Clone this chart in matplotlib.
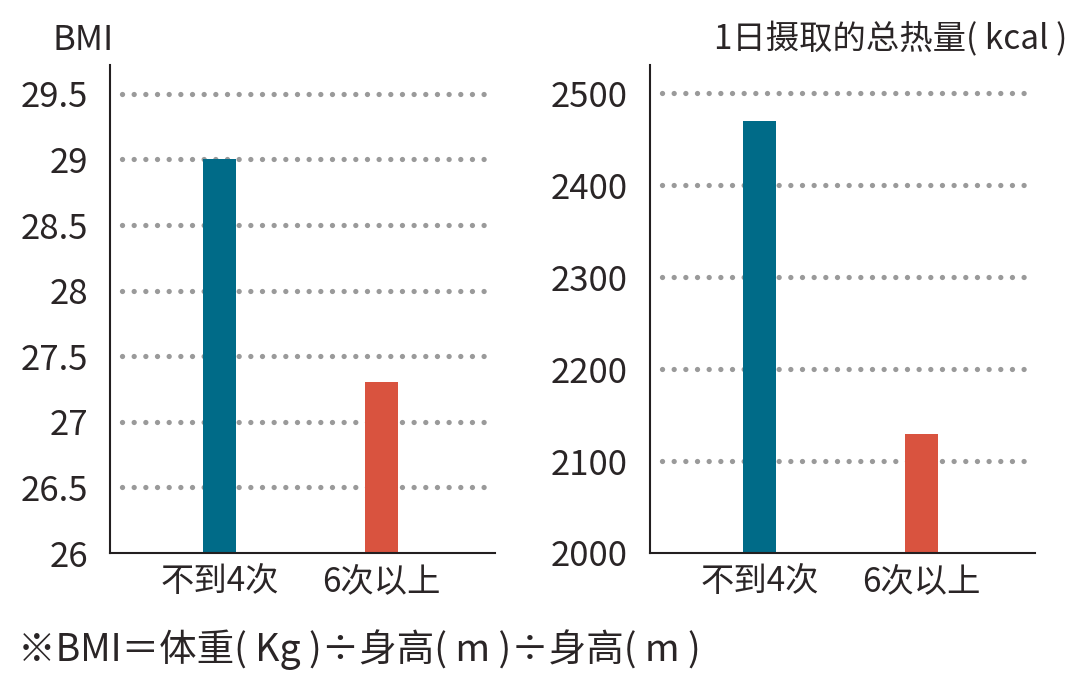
import matplotlib
matplotlib.use("Agg")
import matplotlib.pyplot as plt

plt.rcParams['font.family'] = ['Noto Sans CJK SC', 'DejaVu Sans']

# data
categories = ["不到4次", "6次以上"]
bmi_values = [29.0, 27.3]
kcal_values = [2470, 2130]
bar_colors = ["#006b88", "#d9533f"]

bmi_ticks = [26, 26.5, 27, 27.5, 28, 28.5, 29, 29.5]
bmi_ticklabels = ["26", "26.5", "27", "27.5", "28", "28.5", "29", "29.5"]
kcal_ticks = [2000, 2100, 2200, 2300, 2400, 2500]
kcal_ticklabels = ["2000", "2100", "2200", "2300", "2400", "2500"]

text_color = "#2a2526"

fig = plt.figure(figsize=(10.8, 6.87), dpi=100)
ax1 = fig.add_axes([110 / 1080, 1 - 553 / 687, 385 / 1080, 488 / 687])
ax2 = fig.add_axes([650 / 1080, 1 - 553 / 687, 385 / 1080, 488 / 687])

grid_style = dict(color="#9a9a9a", linewidth=3.8, linestyle=(0, (0.01, 2.2)),
                  dash_capstyle="round", zorder=1)


def style_axis(ax, ticks, ticklabels, ylim, grid_vals):
    x = list(range(len(categories)))
    for v in grid_vals:
        ax.plot([-0.60, 1.69], [v, v], **grid_style)
    ax.set_xlim(-0.676, 1.70)
    ax.set_ylim(*ylim)
    ax.set_yticks(ticks)
    ax.set_yticklabels(ticklabels, fontsize=25, color=text_color)
    ax.set_xticks(x)
    ax.set_xticklabels(categories, fontsize=24, color=text_color)
    ax.tick_params(axis="both", length=0)
    ax.tick_params(axis="y", pad=16)
    ax.tick_params(axis="x", pad=8)
    for s in ["top", "right"]:
        ax.spines[s].set_visible(False)
    for s in ["left", "bottom"]:
        ax.spines[s].set_linewidth(1.5)
        ax.spines[s].set_color("#231f20")


style_axis(ax1, bmi_ticks, bmi_ticklabels, (26, 29.72), bmi_ticks[1:])
ax1.bar(range(len(categories)), bmi_values, width=0.204, color=bar_colors, zorder=2)

style_axis(ax2, kcal_ticks, kcal_ticklabels, (2000, 2531), kcal_ticks[1:])
ax2.bar(range(len(categories)), kcal_values, width=0.204, color=bar_colors, zorder=2)

fig.text(52 / 1080, 1 - 40 / 687, "BMI", fontsize=25, color=text_color,
         ha="left", va="center")
fig.text(1067 / 1080, 1 - 40 / 687, "1日摄取的总热量( kcal )", fontsize=24,
         color=text_color, ha="right", va="center")
fig.text(18 / 1080, 1 - 650 / 687, "※BMI＝体重( Kg )÷身高( m )÷身高( m )",
         fontsize=27, color=text_color, ha="left", va="center")

fig.savefig("out.png", dpi=100)
